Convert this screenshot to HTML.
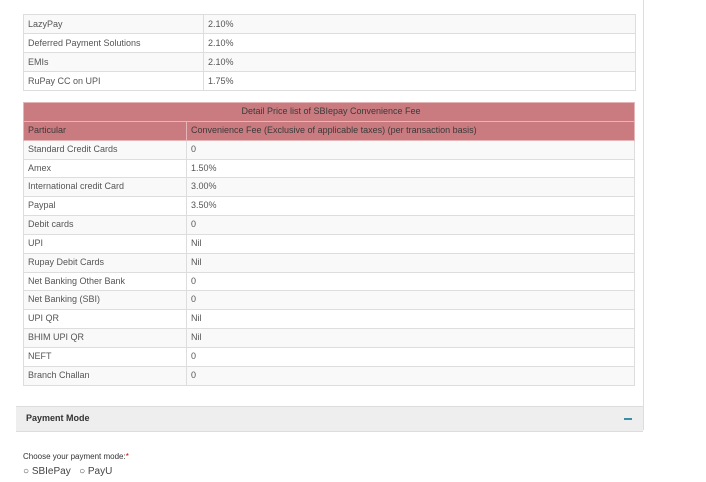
<!DOCTYPE html>
<html><head><style>
body{margin:0;width:706px;height:482px;background:#fff;font-family:"Liberation Sans",sans-serif;font-size:9px;color:#555;position:relative;overflow:hidden}
.t{position:absolute;border-collapse:collapse;table-layout:fixed}
.t td{border:1px solid #ddd;padding:0 0 0 4px;height:18px;line-height:18px;white-space:nowrap;overflow:hidden}
.t2 td{height:17.85px;line-height:17.85px}
.t tr:nth-child(odd) td{background:#f9f9f9}
.h td{background:#c97b80!important;color:#3a3a3a;border-color:#e4b6b8}
.vl{position:absolute;left:643px;top:0;width:1px;height:430px;background:#ddd}
</style></head><body>
<div class="vl"></div>
<table class="t" style="left:23px;top:14px;width:613px">
<col style="width:180px"><col>
<tr><td>LazyPay</td><td>2.10%</td></tr>
<tr><td>Deferred Payment Solutions</td><td>2.10%</td></tr>
<tr><td>EMIs</td><td>2.10%</td></tr>
<tr><td>RuPay CC on UPI</td><td>1.75%</td></tr>
</table>
<table class="t t2" style="left:23px;top:102px;width:612px">
<col style="width:163px"><col>
<tr class="h"><td colspan="2" style="text-align:center">Detail Price list of SBIepay Convenience Fee</td></tr>
<tr class="h"><td>Particular</td><td>Convenience Fee (Exclusive of applicable taxes) (per transaction basis)</td></tr>
<tr><td>Standard Credit Cards</td><td>0</td></tr>
<tr><td>Amex</td><td>1.50%</td></tr>
<tr><td>International credit Card</td><td>3.00%</td></tr>
<tr><td>Paypal</td><td>3.50%</td></tr>
<tr><td>Debit cards</td><td>0</td></tr>
<tr><td>UPI</td><td>Nil</td></tr>
<tr><td>Rupay Debit Cards</td><td>Nil</td></tr>
<tr><td>Net Banking Other Bank</td><td>0</td></tr>
<tr><td>Net Banking (SBI)</td><td>0</td></tr>
<tr><td>UPI QR</td><td>Nil</td></tr>
<tr><td>BHIM UPI QR</td><td>Nil</td></tr>
<tr><td>NEFT</td><td>0</td></tr>
<tr><td>Branch Challan</td><td>0</td></tr>
</table>
<div style="position:absolute;left:16px;top:406px;width:627px;height:24px;background:#eee;border-top:1px solid #ddd;border-bottom:1px solid #ddd"></div>
<div style="position:absolute;left:26px;top:413px;font-weight:bold;color:#333;font-size:9px">Payment Mode</div>
<div style="position:absolute;left:624px;top:418px;width:8px;height:2px;background:#3a8fa8"></div>
<div style="position:absolute;left:23px;top:452px;font-size:8px;color:#333">Choose your payment mode:<span style="color:#c00">*</span></div>
<div style="position:absolute;left:23px;top:466px;font-size:10px;color:#444">○ SBIePay &nbsp;&nbsp;○ PayU</div>
</body></html>
